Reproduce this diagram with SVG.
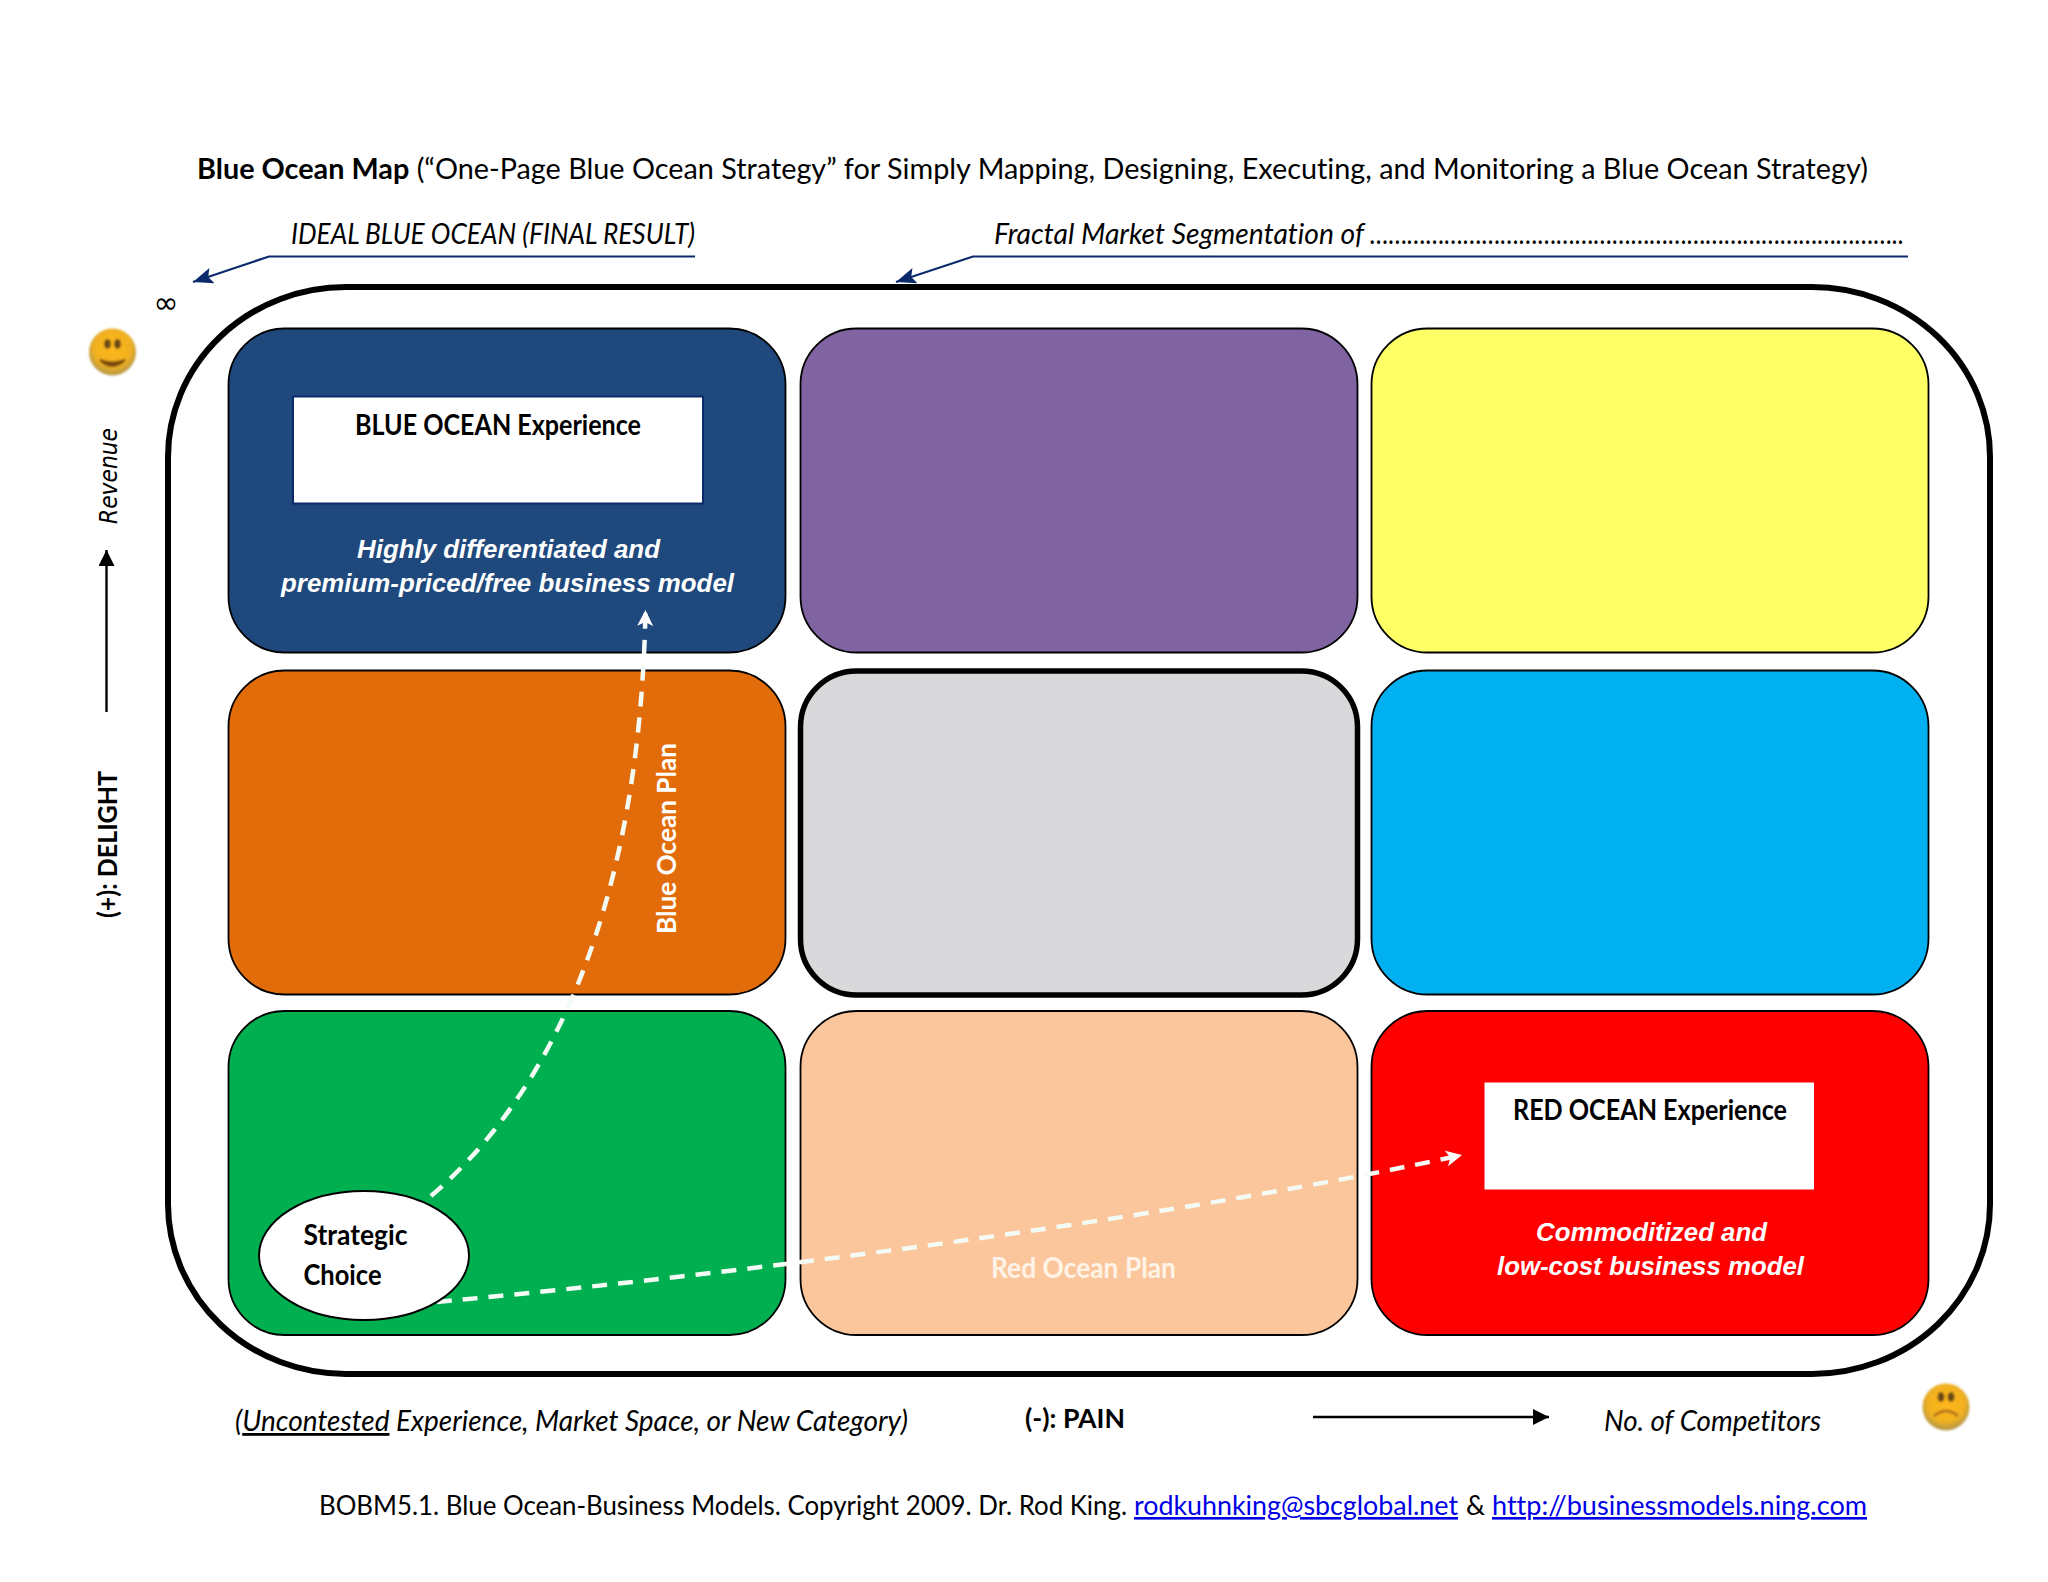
<svg xmlns="http://www.w3.org/2000/svg" width="2048" height="1582" viewBox="0 0 2048 1582">
<style>
text{font-family:"Lato","Carlito","Liberation Sans",sans-serif;fill:#000;font-variant-ligatures:none}
.t{font-size:28px}
.f{font-size:26px}
.b{font-weight:700}
.i{font-style:italic}
.ar{font-family:"Liberation Sans",Arial,sans-serif;font-weight:700;font-style:italic;font-size:26px;fill:#fff}
.cell{stroke:#000;stroke-width:1.8}
.lnk{fill:#0000e6;text-decoration:underline}
.dash{fill:none;stroke:#f4fbf4;stroke-width:4.5;stroke-dasharray:15 11}
.blue{fill:none;stroke:#0b2a6b;stroke-width:2.2}
.axis{fill:none;stroke:#000;stroke-width:2.4}
</style>
<defs>
<marker id="navy" markerUnits="userSpaceOnUse" markerWidth="22" markerHeight="18" refX="20" refY="8" orient="auto"><path d="M0 0L20 8L0 16L4 8Z" fill="#0b2a6b"/></marker>
<marker id="blk" markerUnits="userSpaceOnUse" markerWidth="18" markerHeight="18" refX="16" refY="8" orient="auto"><path d="M0 0L16 8L0 16Z" fill="#000"/></marker>
<marker id="wht" markerUnits="userSpaceOnUse" markerWidth="18" markerHeight="18" refX="16" refY="8" orient="auto"><path d="M0 0L16 8L0 16L4 8Z" fill="#fff"/></marker>
<radialGradient id="face" cx=".5" cy=".42" r=".55"><stop offset="0" stop-color="#ffb81e"/><stop offset=".72" stop-color="#f0b020"/><stop offset="1" stop-color="#b99a45"/></radialGradient>
<filter id="soft" x="-20%" y="-20%" width="140%" height="140%"><feGaussianBlur stdDeviation="1.300"/></filter>
</defs>
<rect width="2048" height="1582" fill="#fff"/>
<text id="title" class="t" x="197" y="179" textLength="1671" lengthAdjust="spacingAndGlyphs"><tspan class="b">Blue Ocean Map</tspan> (“One-Page Blue Ocean Strategy” for Simply Mapping, Designing, Executing, and Monitoring a Blue Ocean Strategy)</text>
<text class="t i" x="291" y="244" textLength="404" lengthAdjust="spacingAndGlyphs">IDEAL BLUE OCEAN (FINAL RESULT)</text>
<text class="t i" y="244"><tspan x="994" textLength="370" lengthAdjust="spacingAndGlyphs">Fractal Market Segmentation of</tspan><tspan x="1370" textLength="534" lengthAdjust="spacingAndGlyphs">…………………………………………………………………………..</tspan></text>
<text x="166" y="313" font-size="30" text-anchor="middle" style="font-family:'DejaVu Sans',sans-serif">∞</text>
<rect id="frame" x="168" y="287" width="1822" height="1087" rx="178" ry="170" fill="#fff" stroke="#000" stroke-width="6"/>
<g id="cell-1"><rect class="cell" x="228.5" y="328.5" width="557" height="324" rx="56" fill="#1f497d"/>
<rect x="293" y="396.500" width="410" height="107" fill="#fff" stroke="#0b2a6b" stroke-width="2"/>
<text class="t b" x="355" y="435" textLength="286" lengthAdjust="spacingAndGlyphs">BLUE OCEAN Experience</text>
<text class="ar" x="357" y="558" textLength="303" lengthAdjust="spacingAndGlyphs">Highly differentiated and</text>
<text class="ar" x="281" y="592" textLength="453" lengthAdjust="spacingAndGlyphs">premium-priced/free business model</text></g>
<g id="cell-2"><rect class="cell" x="800.5" y="328.5" width="557" height="324" rx="56" fill="#8064a2"/></g>
<g id="cell-3"><rect class="cell" x="1371.5" y="328.5" width="557" height="324" rx="56" fill="#ffff66"/></g>
<g id="cell-4"><rect class="cell" x="228.5" y="670.5" width="557" height="324" rx="56" fill="#e36c0a"/></g>
<g id="cell-5"><rect x="800.5" y="671" width="557" height="324" rx="56" fill="#d9d8da" stroke="#000" stroke-width="5.5"/></g>
<g id="cell-6"><rect class="cell" x="1371.5" y="670.5" width="557" height="324" rx="56" fill="#00b0f0"/></g>
<g id="cell-7"><rect class="cell" x="228.5" y="1011" width="557" height="324" rx="56" fill="#00b050"/></g>
<g id="cell-8"><rect class="cell" x="800.5" y="1011" width="557" height="324" rx="56" fill="#fcc69c"/></g>
<g id="cell-9"><rect class="cell" x="1371.5" y="1011" width="557" height="324" rx="56" fill="#ff0000"/>
<rect x="1484.5" y="1082.5" width="329.5" height="107" fill="#fff"/>
<text class="t b" x="1513" y="1120" textLength="274" lengthAdjust="spacingAndGlyphs">RED OCEAN Experience</text>
<text class="ar" x="1536" y="1241" textLength="231" lengthAdjust="spacingAndGlyphs">Commoditized and</text>
<text class="ar" x="1497" y="1275" textLength="307" lengthAdjust="spacingAndGlyphs">low-cost business model</text></g>
<g id="connectors">
<path class="blue" d="M695 256.500H269L193 282" marker-end="url(#navy)"/>
<path class="blue" d="M1908 256.500H973L896 282" marker-end="url(#navy)"/>
<path class="axis" d="M106.500 712V550" marker-end="url(#blk)"/>
<path class="axis" d="M1313 1417H1549" marker-end="url(#blk)"/>
<path class="dash" d="M431 1196C555 1090 640 900 645.500 610" marker-end="url(#wht)"/>
<path class="dash" d="M437 1302C800 1268 1200 1212 1462 1155" marker-end="url(#wht)"/>
</g>
<g id="strategic-choice"><ellipse cx="364" cy="1255.500" rx="105" ry="64.500" fill="#fff" stroke="#000" stroke-width="2"/>
<text class="t b" x="303.500" y="1245" textLength="104" lengthAdjust="spacingAndGlyphs">Strategic</text>
<text class="t b" x="303.500" y="1285" textLength="78" lengthAdjust="spacingAndGlyphs">Choice</text></g>
<g id="smile" filter="url(#soft)"><circle cx="112.500" cy="352" r="23.500" fill="url(#face)"/>
<ellipse cx="107.500" cy="344" rx="3.500" ry="5" fill="#6b4a12"/><ellipse cx="117.500" cy="344" rx="3.500" ry="5" fill="#6b4a12"/>
<path d="M100 360Q112 372 125 360Q112 365 100 360Z" fill="#7a4a10" stroke="#7a4a10" stroke-width="2"/></g>
<g id="frown" filter="url(#soft)"><circle cx="1946" cy="1407" r="23.500" fill="url(#face)"/>
<ellipse cx="1941" cy="1397" rx="3.500" ry="5" fill="#6b4a12"/><ellipse cx="1951" cy="1397" rx="3.500" ry="5" fill="#6b4a12"/>
<path d="M1934 1416Q1946 1406 1958 1416" fill="none" stroke="#a8681a" stroke-width="2.500"/></g>
<text class="i" transform="translate(117 524) rotate(-90)" textLength="96" lengthAdjust="spacingAndGlyphs" font-size="25" style="font-family:'DejaVu Sans',sans-serif">Revenue</text>
<text class="b" font-size="26" transform="translate(117 918) rotate(-90)" textLength="147" lengthAdjust="spacingAndGlyphs">(+): DELIGHT</text>
<text class="b" font-size="26" transform="translate(676 934) rotate(-90)" textLength="191" lengthAdjust="spacingAndGlyphs" style="fill:#fff">Blue Ocean Plan</text>
<text class="t b" x="991" y="1278" textLength="185" lengthAdjust="spacingAndGlyphs" style="fill:#fff3e8">Red Ocean Plan</text>
<text class="t i" x="235" y="1431" textLength="673" lengthAdjust="spacingAndGlyphs">(<tspan text-decoration="underline">Uncontested</tspan> Experience, Market Space, or New Category)</text>
<text class="b" font-size="26" x="1025" y="1428" textLength="100" lengthAdjust="spacingAndGlyphs">(-): PAIN</text>
<text class="t i" x="1604" y="1431" textLength="217" lengthAdjust="spacingAndGlyphs">No. of Competitors</text>
<text class="f" y="1515"><tspan x="319" textLength="808" lengthAdjust="spacingAndGlyphs">BOBM5.1. Blue Ocean-Business Models. Copyright 2009. Dr. Rod King.</tspan><tspan class="lnk" x="1134" textLength="324" lengthAdjust="spacingAndGlyphs">rodkuhnking@sbcglobal.net</tspan><tspan x="1466" textLength="19" lengthAdjust="spacingAndGlyphs">&amp;</tspan><tspan class="lnk" x="1492" textLength="375" lengthAdjust="spacingAndGlyphs">http://businessmodels.ning.com</tspan></text>
</svg>
